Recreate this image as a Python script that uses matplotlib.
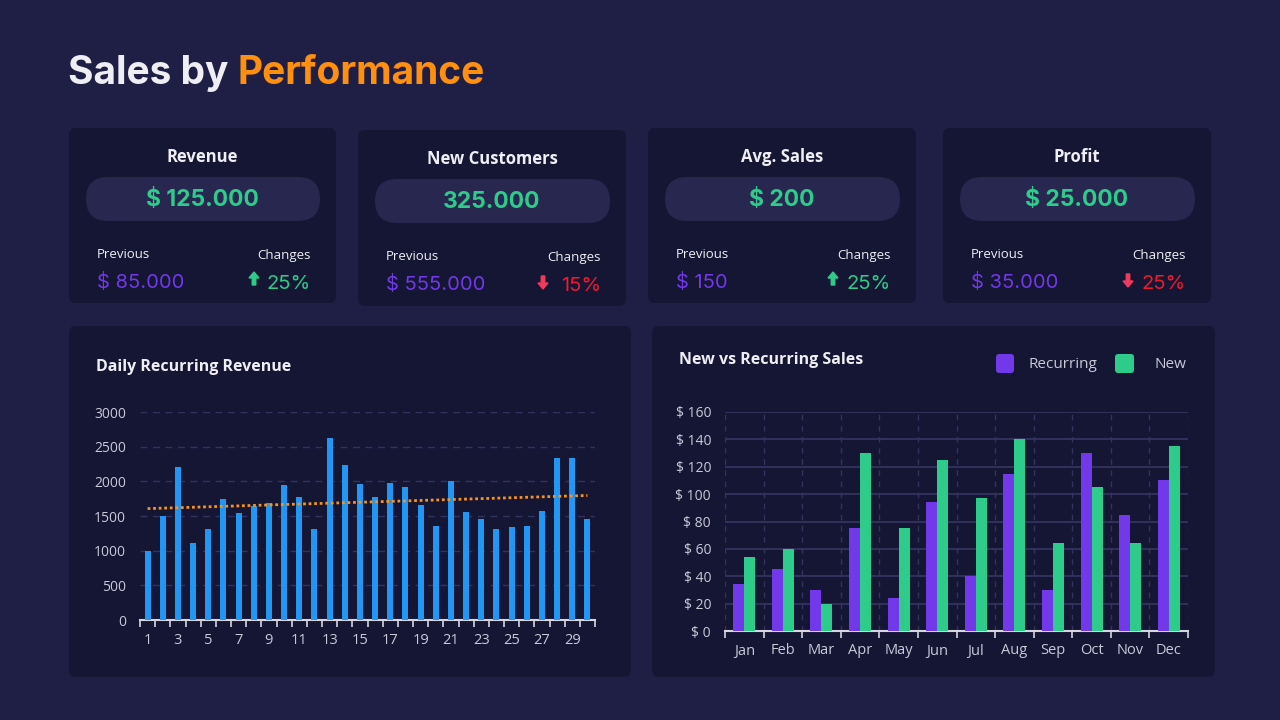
"""Sales by Performance dashboard: four KPI cards and two bar charts."""

import matplotlib
matplotlib.use("Agg")
import matplotlib.pyplot as plt
import numpy as np
from matplotlib.patches import FancyArrow, FancyBboxPatch

# ---------------------------------------------------------------------------
# Data
# ---------------------------------------------------------------------------

KPI_TITLES = ["Revenue", "New Customers", "Avg. Sales", "Profit"]
KPI_VALUES = ["$ 125.000", "325.000", "$ 200", "$ 25.000"]
KPI_PREVIOUS = ["$ 85.000", "$ 555.000", "$ 150", "$ 35.000"]
KPI_CHANGES = ["25%", "15%", "25%", "25%"]
KPI_UP = [True, False, True, False]

DAYS = np.arange(1, 31)
DAILY_REVENUE = [1000, 1500, 2200, 1110, 1310, 1750, 1540, 1650, 1690, 1950,
                 1780, 1310, 2630, 2240, 1960, 1775, 1980, 1920, 1660, 1360,
                 2000, 1560, 1460, 1310, 1340, 1360, 1570, 2340, 2340, 1450]

MONTHS = ["Jan", "Feb", "Mar", "Apr", "May", "Jun",
          "Jul", "Aug", "Sep", "Oct", "Nov", "Dec"]
RECURRING = [34, 45, 30, 75, 24, 94, 40, 115, 30, 130, 85, 110]
NEW = [54, 60, 20, 130, 75, 125, 97, 140, 64, 105, 64, 135]

# ---------------------------------------------------------------------------
# Style
# ---------------------------------------------------------------------------

BG = "#1f1f45"
CARD = "#151534"
PILL = "#27274f"
WHITE = "#eeeef4"
LABEL = "#c9c9d8"
GREEN = "#2ecc8a"
PURPLE = "#7239ea"
RED = "#ee1a2e"
RED_ARROW = "#f03a5c"
ORANGE = "#ff8f0f"
BLUE = "#2196f3"
GRID = "#33335f"

plt.rcParams["font.family"] = ["Open Sans", "DejaVu Sans"]
HEAD_FONT = ["Inter", "DejaVu Sans"]

W, H = 1280, 720
fig = plt.figure(figsize=(W / 100, H / 100), dpi=100, facecolor=BG)

# background layer in pixel coordinates (y grows downwards)
bg = fig.add_axes([0, 0, 1, 1], zorder=0)
bg.set_xlim(0, W)
bg.set_ylim(H, 0)
bg.axis("off")


def rounded(x, y, w, h, r, color):
    bg.add_patch(FancyBboxPatch((x, y), w, h, boxstyle=f"round,pad=0,rounding_size={r}",
                                facecolor=color, edgecolor="none"))


# ---------------------------------------------------------------------------
# Title
# ---------------------------------------------------------------------------

t1 = bg.text(68, 73, "Sales by ", fontsize=28, fontweight="bold", family=HEAD_FONT,
             color=WHITE, va="center", ha="left")
renderer = fig.canvas.get_renderer()
ext = t1.get_window_extent(renderer)
bg.text(68 + ext.width, 73, "Performance", fontsize=28, fontweight="bold",
        family=HEAD_FONT, color=ORANGE, va="center", ha="left")

# ---------------------------------------------------------------------------
# KPI cards
# ---------------------------------------------------------------------------

CARD_BOXES = [(69, 128, 267, 175), (358, 130, 268, 176),
              (648, 128, 268, 175), (943, 128, 268, 175)]

for i, (x0, y0, w, h) in enumerate(CARD_BOXES):
    rounded(x0, y0, w, h, 7, CARD)
    rounded(x0 + 17, y0 + 49, w - 33, 44, 22, PILL)
    cx = x0 + w / 2
    bg.text(cx, y0 + 29, KPI_TITLES[i], fontsize=12, fontweight="bold",
            color=WHITE, ha="center", va="center")
    bg.text(cx, y0 + 72, KPI_VALUES[i], fontsize=16.5, fontweight="bold",
            family=HEAD_FONT, color=GREEN, ha="center", va="center")
    bg.text(x0 + 28, y0 + 127, "Previous", fontsize=9.5, color=WHITE,
            ha="left", va="center")
    bg.text(x0 + w - 25, y0 + 127, "Changes", fontsize=9.5, color=WHITE,
            ha="right", va="center")
    bg.text(x0 + 28, y0 + 155, KPI_PREVIOUS[i], fontsize=14.5,
            family=HEAD_FONT, color=PURPLE, ha="left", va="center")
    up = KPI_UP[i]
    bg.text(x0 + w - 25, y0 + 156, KPI_CHANGES[i], fontsize=14.5,
            family=HEAD_FONT, color=GREEN if up else RED, ha="right", va="center")
    # small solid arrow in front of the change figure
    ax_ = x0 + 185
    if up:
        arrow = FancyArrow(ax_, y0 + 157, 0, -13, width=3.5, head_width=10,
                           head_length=6, length_includes_head=True, color=GREEN)
    else:
        arrow = FancyArrow(ax_, y0 + 146, 0, 13, width=3.5, head_width=10,
                           head_length=6, length_includes_head=True, color=RED_ARROW)
    bg.add_patch(arrow)

# ---------------------------------------------------------------------------
# Chart panels
# ---------------------------------------------------------------------------

rounded(69, 326, 562, 351, 7, CARD)
rounded(652, 326, 563, 351, 7, CARD)
bg.text(96, 367, "Daily Recurring Revenue", fontsize=11.5, fontweight="bold",
        color=WHITE, ha="left", va="center")
bg.text(679, 360, "New vs Recurring Sales", fontsize=11.5, fontweight="bold",
        color=WHITE, ha="left", va="center")

# legend drawn by hand so it sits in the panel header
rounded(996, 354, 18, 19, 3, PURPLE)
bg.text(1029, 364, "Recurring", fontsize=11, color=LABEL, ha="left", va="center")
rounded(1115, 354, 19, 19, 3, GREEN)
bg.text(1154, 364, "New", fontsize=11, color=LABEL, ha="left", va="center")


def style_axes(ax, xpad):
    ax.set_facecolor("none")
    for s in ("top", "right", "left"):
        ax.spines[s].set_visible(False)
    ax.spines["bottom"].set_color("#d6d6e2")
    ax.spines["bottom"].set_linewidth(1.5)
    ax.tick_params(axis="y", length=0, pad=10, labelsize=10, labelcolor=LABEL)
    ax.tick_params(axis="x", which="major", length=5, width=1.2, color="#d6d6e2",
                   labelbottom=False)
    ax.tick_params(axis="x", which="minor", length=0, pad=xpad, labelsize=10.5,
                   labelcolor=LABEL)
    ax.set_axisbelow(True)


# Daily Recurring Revenue
ax1 = fig.add_axes([140 / W, 1 - 620 / H, 455 / W, 208 / H], zorder=2)
ax1.bar(DAYS, DAILY_REVENUE, width=0.4, color=BLUE, zorder=3)
trend = np.polyval(np.polyfit(DAYS, DAILY_REVENUE, 1), DAYS)
ax1.plot(DAYS, trend, color="#f7941d", lw=2, ls=(0, (1, 1)), zorder=4)
ax1.set_xlim(0.5, 30.5)
ax1.set_ylim(0, 3000)
ax1.set_yticks(range(0, 3001, 500))
ax1.set_xticks(np.arange(0.5, 31, 1))
ax1.set_xticks(DAYS[::2], [str(d) for d in DAYS[::2]], minor=True)
ax1.yaxis.grid(True, ls=(0, (5, 4)), color=GRID, lw=1)
style_axes(ax1, 9)

# New vs Recurring Sales
ax2 = fig.add_axes([725 / W, 1 - 631 / H, 463 / W, 219 / H], zorder=2)
x = np.arange(len(MONTHS))
ax2.bar(x - 0.1425, RECURRING, width=0.285, color=PURPLE, zorder=3)
ax2.bar(x + 0.1425, NEW, width=0.285, color=GREEN, zorder=3)
ax2.set_xlim(-0.5, 11.5)
ax2.set_ylim(0, 160)
ax2.set_yticks(range(0, 161, 20), [f"$ {v}" for v in range(0, 161, 20)])
ax2.set_xticks(np.arange(-0.5, 12, 1))
ax2.set_xticks(x, MONTHS, minor=True)
ax2.yaxis.grid(True, color=GRID, lw=1.3)
ax2.xaxis.grid(True, which="major", ls=(0, (4, 4)), color=GRID, lw=1)
style_axes(ax2, 9)

fig.savefig("out.png", dpi=100, facecolor=BG)
